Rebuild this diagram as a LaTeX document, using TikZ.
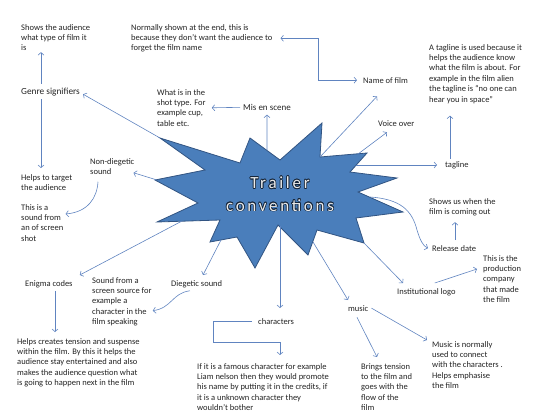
\documentclass[tikz,border=0pt]{standalone}
\usepackage{fontspec}
\setmainfont{Carlito}
\newfontfamily\titlefont[LetterSpace=16]{Carlito}
\usetikzlibrary{arrows.meta}
\definecolor{linkblue}{RGB}{96,132,192}
\definecolor{starfill}{RGB}{74,126,187}
\definecolor{starline}{RGB}{50,84,130}
\definecolor{inktext}{RGB}{35,35,35}
\begin{document}
\begin{tikzpicture}[x=1pt,y=-1pt,
  note/.style={anchor=north west,inner sep=0pt,align=left,text=inktext,font=\fontsize{8.5}{10.4}\selectfont},
  link/.style={draw=linkblue,line width=0.6pt,-{Straight Barb[length=2.6pt,width=6pt]}},
  twoway/.style={draw=linkblue,line width=0.6pt,{Straight Barb[length=2.6pt,width=6pt]}-{Straight Barb[length=2.6pt,width=6pt]}},
  burst/.style={fill=starfill,draw=starline,line width=0.8pt,line join=miter},
  title/.style={align=center,inner sep=0pt,font=\titlefont\fontsize{17}{22.5}\selectfont}]
\useasboundingbox (0,0) rectangle (560,420);
% the star
\draw[burst](160,138)--(240,163)--(250,138)--(280,160)--(322,123)--(320,157)--(367,153)--(350,172)
  --(397,178)--(358,192)--(403,212)--(356,218)--(364,243)--(317,230)--(308,255)--(278,225)
  --(255,268)--(237,237)--(210,242)--(220,220)--(157,222)--(198,203)--(155,180)--(205,170)--cycle;
\foreach \a in {0,30,...,330}
  \node[title,text=starline!45!black] at ([shift={(\a:0.7pt)}]280,194) {Trailer\\conventions};
\node[title,text=white!92!black] (trailer) at (280,194) {Trailer\\conventions};
% where the links leave the star
\coordinate (sGenre) at (160,138);
\coordinate (sMis) at (267,150);
\coordinate (sNon) at (157,180);
\coordinate (sEnigma) at (182,221);
\coordinate (sDie) at (221,240);
\coordinate (sChar) at (280,226);
\coordinate (sMusic) at (313,242);
\coordinate (sInst) at (364,243);
\coordinate (sRel) at (370,197);
\coordinate (sTag) at (356,165);
\coordinate (sVoice) at (358,154);
\coordinate (sName) at (320,157);
% texts
\node[note] (aud) at (21,24) {Shows the audience\\what type of film it\\is};
\node[note] (nmnote) at (131,24) {Normally shown at the end, this is\\because they don’t want the audience to\\forget the film name};
\node[note,font=\fontsize{9.3}{11}\selectfont] (genre) at (21,88) {Genre signifiers};
\node[note] (shot) at (157,89) {What is in the\\shot type. For\\example cup,\\table etc.};
\node[note,font=\fontsize{9}{11}\selectfont] (mis) at (243,104) {Mis en scene};
\node[note] (target) at (21,174) {Helps to target\\the audience};
\node[note] (offsc) at (21,204) {This is a\\sound from\\an of screen\\shot};
\node[note] (nondie) at (90,158) {Non-diegetic\\sound};
\node[note] (enigma) at (25,280) {Enigma codes};
\node[note] (tension) at (17,338) {Helps creates tension and suspense\\within the film. By this it helps the\\audience stay entertained and also\\makes the audience question what\\is going to happen next in the film};
\node[note] (onsc) at (92,277) {Sound from a\\screen source for\\example a\\character in the\\film speaking};
\node[note] (die) at (171,280) {Diegetic sound};
\node[note] (chars) at (258,318) {characters};
\node[note] (famous) at (197,363) {If it is a famous character for example\\Liam nelson then they would promote\\his name by putting it in the credits, if\\it is a unknown character they\\wouldn’t bother};
\node[note] (music) at (348,305) {music};
\node[note] (brings) at (361,363) {Brings tension\\to the film and\\goes with the\\flow of the\\film};
\node[note] (musnote) at (432,341) {Music is normally\\used to connect\\with the characters .\\Helps emphasise\\the film};
\node[note] (inst) at (397,288) {Institutional logo};
\node[note] (prod) at (483,255) {This is the\\production\\company\\that made\\the film};
\node[note] (rel) at (432,245) {Release date};
\node[note] (comeout) at (429,198) {Shows us when the\\film is coming out};
\node[note] (tag) at (445,161) {tagline};
\node[note] (tagnote) at (429,44) {A tagline is used because it\\helps the audience know\\what the film is about. For\\example in the film alien\\the tagline is “no one can\\hear you in space”};
\node[note] (voice) at (378,120) {Voice over};
\node[note] (name) at (363,77) {Name of film};
% links
\draw[link](sGenre)--([shift={(3,2)}]genre.east);
\draw[link]([shift={(20,-4)}]genre.north west)--([shift={(20,1)}]aud.south west);
\draw[link]([shift={(20,3)}]genre.south west)--([shift={(20,-6)}]target.north west);
\draw[link](sMis)--([yshift=-4pt]mis.south);
\draw[link]([xshift=-3pt]mis.west)--([xshift=6pt]shot.east);
\draw[link](sNon)--([shift={(-1,-2)}]nondie.south east);
\draw[link]([shift={(8,7)}]nondie.south west) .. controls (97,198) and (88,212) .. ([shift={(2,10)}]offsc.north east);
\draw[link](sEnigma)--([shift={(7,-5)}]enigma.north east);
\draw[link]([shift={(30,3)}]enigma.south west)--([shift={(38,-6)}]tension.north west);
\draw[link](sDie)--([shift={(32,-5)}]die.north west);
\draw[link]([shift={(19,3)}]die.south west) .. controls (172,293) and (172,308) .. ([shift={(1,9)}]onsc.east);
\draw[link](sChar)--([shift={(22,-10)}]chars.north west);
\draw[link]([xshift=-6pt]chars.west)--++(-39,0)--++(0,21)-|([shift={(83,-8)}]famous.north west);
\draw[link](sMusic)--([shift={(0,-5)}]music.north west);
\draw[link]([shift={(9,6)}]music.south west)--([shift={(16,-6)}]brings.north west);
\draw[link]([xshift=3pt]music.east)--([shift={(-5,-1)}]musnote.north west);
\draw[link](sInst)--([shift={(6,-5)}]inst.north west);
\draw[link]([shift={(-21,-5)}]inst.north east)--([shift={(-6,14)}]prod.north west);
\draw[link](sRel) .. controls (400,199) and (412,210) .. (417,230) .. controls (420,240) and (423,246) .. ([xshift=-4pt]rel.west);
\draw[link]([shift={(23,-5)}]rel.north west)--([shift={(26,6)}]comeout.south west);
\draw[link](sTag)--([xshift=-8pt]tag.west |- sTag);
\draw[link]([shift={(5,-2)}]tag.north west)--([shift={(21,12)}]tagnote.south west);
\draw[link](sVoice)--([shift={(9,6)}]voice.south west);
\draw[link](sName)--([shift={(14,13)}]name.south west);
\draw[twoway]([xshift=-6pt]name.west)--++(-39,0)|-([xshift=8pt]nmnote.east);
\end{tikzpicture}
\end{document}
